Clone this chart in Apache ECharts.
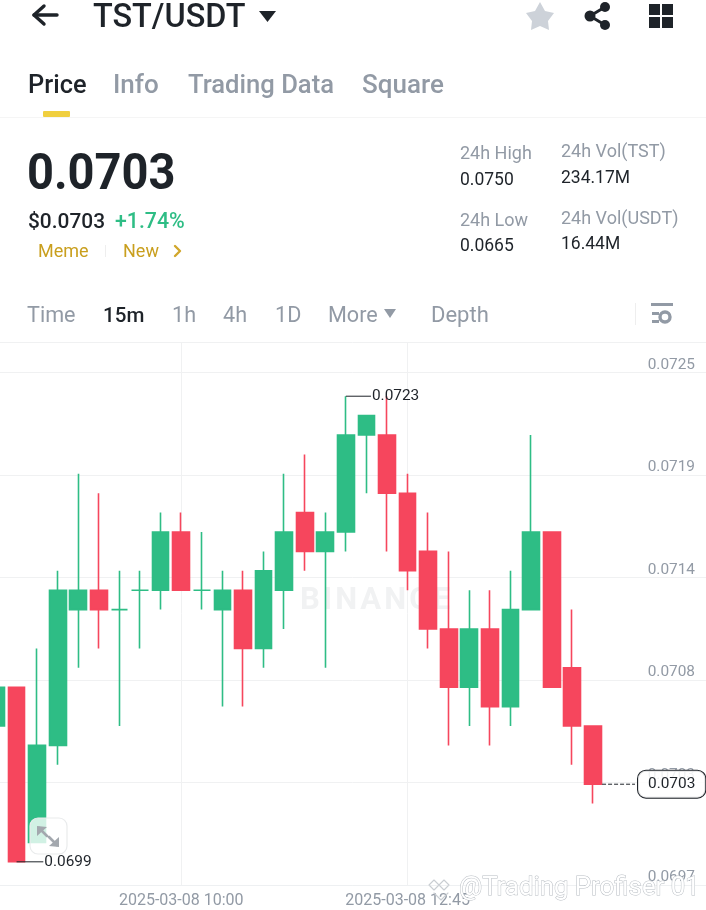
<!DOCTYPE html>
<html>
<head>
<meta charset="utf-8">
<style>
html, body { margin: 0; padding: 0; background: #fff; }
#chart { width: 706px; height: 910px; }
</style>
<script src="https://cdn.jsdelivr.net/npm/echarts@6/dist/echarts.min.js"></script>
</head>
<body>
<div id="chart"></div>
<script>
const categories = [
    '2025-03-08 07:45', '2025-03-08 08:00', '2025-03-08 08:15', '2025-03-08 08:30', '2025-03-08 08:45',
    '2025-03-08 09:00', '2025-03-08 09:15', '2025-03-08 09:30', '2025-03-08 09:45', '2025-03-08 10:00',
    '2025-03-08 10:15', '2025-03-08 10:30', '2025-03-08 10:45', '2025-03-08 11:00', '2025-03-08 11:15',
    '2025-03-08 11:30', '2025-03-08 11:45', '2025-03-08 12:00', '2025-03-08 12:15', '2025-03-08 12:30',
    '2025-03-08 12:45', '2025-03-08 13:00', '2025-03-08 13:15', '2025-03-08 13:30', '2025-03-08 13:45',
    '2025-03-08 14:00', '2025-03-08 14:15', '2025-03-08 14:30', '2025-03-08 14:45', '2025-03-08 15:00',
    '2025-03-08 15:15', '2025-03-08 15:30', '2025-03-08 15:45', '2025-03-08 16:00', '2025-03-08 16:15'
];
const labelledTimes = ['2025-03-08 10:00', '2025-03-08 12:45'];

// open, close, low, high
const candles = [
    [0.0706, 0.0708, 0.0706, 0.0708], [0.0708, 0.0699, 0.0699, 0.0708], [0.0700, 0.0705, 0.0700, 0.0710],
    [0.0705, 0.0713, 0.0704, 0.0714], [0.0712, 0.0713, 0.0709, 0.0719], [0.0713, 0.0712, 0.0710, 0.0718],
    [0.0712, 0.0712, 0.0706, 0.0714], [0.0713, 0.0713, 0.0710, 0.0714], [0.0713, 0.0716, 0.0712, 0.0717],
    [0.0716, 0.0713, 0.0713, 0.0717], [0.0713, 0.0713, 0.0712, 0.0716], [0.0712, 0.0713, 0.0707, 0.0714],
    [0.0713, 0.0710, 0.0707, 0.0714], [0.0710, 0.0714, 0.0709, 0.0715], [0.0713, 0.0716, 0.0711, 0.0719],
    [0.0717, 0.0715, 0.0714, 0.0720], [0.0715, 0.0716, 0.0709, 0.0717], [0.0716, 0.0721, 0.0715, 0.0723],
    [0.0721, 0.0722, 0.0718, 0.0722], [0.0721, 0.0718, 0.0715, 0.0723], [0.0718, 0.0714, 0.0713, 0.0719],
    [0.0715, 0.0711, 0.0710, 0.0717], [0.0711, 0.0708, 0.0705, 0.0715], [0.0708, 0.0711, 0.0706, 0.0713],
    [0.0711, 0.0707, 0.0705, 0.0713], [0.0707, 0.0712, 0.0706, 0.0714], [0.0712, 0.0716, 0.0712, 0.0721],
    [0.0716, 0.0708, 0.0708, 0.0716], [0.0709, 0.0706, 0.0704, 0.0712], [0.0706, 0.0703, 0.0702, 0.0706]
];

const priceTickLabels = ['0.0697', '0.0703', '0.0708', '0.0714', '0.0719', '0.0725', ''];
const highLeader = [[17, 0.0723], [18.22, 0.0723]];
const lowLeader = [[1, 0.0699], [2.3, 0.0699]];
const lastLeader = [[29.45, 0.0703], [31.05, 0.0703]];

const UP = '#2EBD85';
const DOWN = '#F6465D';
const DARK = '#1E2329';
const GRAY = '#929AA5';
const FONT = 'Roboto, sans-serif';

function text(str, x, y, size, fill, weight, extra) {
    return {
        type: 'text',
        z: 100,
        style: Object.assign({
            text: str, x: x, y: y + size * 0.09, fill: fill,
            fontSize: size, fontFamily: FONT, fontWeight: weight || 400,
            verticalAlign: 'middle', align: 'left'
        }, extra || {})
    };
}

function poly(points, fill) {
    return { type: 'polygon', z: 100, shape: { points: points }, style: { fill: fill } };
}

function line(points, stroke, width) {
    return {
        type: 'polyline', z: 100, shape: { points: points },
        style: { stroke: stroke, lineWidth: width, fill: null, lineCap: 'round', lineJoin: 'round' }
    };
}

function box(x, y, w, h, fill, r) {
    return { type: 'rect', z: 100, shape: { x: x, y: y, width: w, height: h, r: r || 0 }, style: { fill: fill } };
}

function dot(cx, cy, r, fill) {
    return { type: 'circle', z: 100, shape: { cx: cx, cy: cy, r: r }, style: { fill: fill } };
}

const headerItems = [
    // top bar
    line([[34, 15], [57, 15]], DARK, 3.4),
    line([[44, 6], [34, 15], [44, 24]], DARK, 3.4),
    text('TST/USDT', 93, 16, 32.4, DARK, 500),
    poly([[259, 11], [276, 11], [267.5, 22]], DARK),
    poly([[540, 2], [545, 11], [554, 13], [548, 21], [549, 30], [540, 26], [531, 30], [532, 21], [526, 13], [535, 11]], '#CDD2D9'),
    line([[590, 16], [605, 7], [590, 16], [605, 25]], DARK, 3),
    dot(590, 16, 5.5, DARK), dot(605, 7, 5, DARK), dot(605, 25, 5, DARK),
    box(649, 4, 11, 11, DARK), box(662, 4, 11, 11, DARK),
    box(649, 17, 11, 11, DARK), box(662, 17, 11, 11, DARK),

    // tabs
    text('Price', 28, 84, 25.4, DARK, 500),
    text('Info', 113, 84, 26, GRAY, 500),
    text('Trading Data', 188, 84, 25.6, GRAY, 500),
    text('Square', 362, 84, 26, GRAY, 500),
    box(43, 111, 27, 6, '#F0CF3F', 1),
    box(0, 117, 706, 1, '#F5F5F5'),

    // price block
    Object.assign(text('0.0703', 0, 172, 50, DARK, 700), { x: 27, scaleX: 0.94 }),
    text('$0.0703', 28, 221, 20.9, DARK, 500),
    text('+1.74%', 115, 221, 21.3, UP, 500),
    text('Meme', 38, 250.5, 18, '#C99F1E'),
    box(105, 245, 1, 12, '#EEEEEE'),
    text('New', 123, 250.5, 18, '#C99F1E'),
    line([[175, 246], [180, 251], [175, 256]], '#D1A72C', 2.4),

    // 24h stats
    text('24h High', 460, 152.5, 18, GRAY),
    text('0.0750', 460, 179, 17.5, DARK),
    text('24h Low', 460, 219.5, 18, GRAY),
    text('0.0665', 460, 245, 17.5, DARK),
    text('24h Vol(TST)', 561, 150.5, 18, GRAY),
    text('234.17M', 561, 177, 17.5, DARK),
    text('24h Vol(USDT)', 561, 217.5, 18, GRAY),
    text('16.44M', 561, 243, 17.5, DARK),

    // interval row
    text('Time', 27, 314.5, 21.6, GRAY),
    text('15m', 103, 314.5, 20.6, DARK, 500),
    text('1h', 172, 314.5, 21.6, GRAY),
    text('4h', 223, 314.5, 21.6, GRAY),
    text('1D', 275, 314.5, 21.6, GRAY),
    text('More', 328, 314.5, 21.6, GRAY),
    poly([[384, 309], [396, 309], [390, 318]], GRAY),
    text('Depth', 431, 314.5, 22, GRAY),
    box(635, 303, 1, 22, '#EEEEEE'),
    box(651, 303, 22, 3, GRAY),
    box(652, 312, 7, 3, GRAY),
    box(652, 320, 7, 3, GRAY),
    { type: 'circle', z: 100, shape: { cx: 665, cy: 317, r: 5 }, style: { fill: '#fff', stroke: GRAY, lineWidth: 3.4 } },

    // expand button
    { type: 'rect', z: 100, shape: { x: 30, y: 818, width: 37, height: 36, r: 8 }, style: { fill: 'rgba(255,255,255,0.78)', stroke: '#E9EBEC', lineWidth: 1.2 } },
    poly([[37, 826], [47, 827], [37, 836]], '#A3A8AE'),
    line([[39, 828], [47, 836]], '#A3A8AE', 2.6),
    poly([[59, 847], [49, 846], [59, 837]], '#A3A8AE'),
    line([[57, 845], [49, 837]], '#A3A8AE', 2.6),

    // image watermark
    line([[429, 885], [434, 880], [439, 885], [434, 890], [429, 885]], '#C9CDD2', 1.1),
    line([[439, 885], [444, 880], [449, 885], [444, 890], [439, 885]], '#C9CDD2', 1.1),
    line([[434, 893], [441, 900], [448, 893]], '#C9CDD2', 1.1),
    text('@Trading Profiser 01', 459, 886, 25.8, '#FFFFFF', 400, { stroke: '#B8BDC3', lineWidth: 1 })
];

const brandMark = {
    type: 'text',
    z: -1,
    style: {
        text: 'B\u200AI\u200AN\u200AA\u200AN\u200AC\u200AE', x: 300, y: 601, fill: '#F1F2F3',
        fontSize: 31, fontFamily: FONT, fontWeight: 700, verticalAlign: 'middle'
    }
};

function leaderSeries(name, points, lineType, label) {
    return {
        name: name,
        type: 'line',
        xAxisIndex: 1,
        data: points,
        symbol: 'none',
        silent: true,
        z: 5,
        lineStyle: { color: DARK, width: 1, type: lineType },
        endLabel: Object.assign({
            show: true,
            formatter: name,
            color: DARK,
            fontSize: 15.4,
            fontFamily: FONT,
            distance: 1,
            padding: [4, 0, 0, 0]
        }, label || {})
    };
}

const chart = echarts.init(document.getElementById('chart'));

chart.setOption({
    animation: false,
    backgroundColor: '#fff',
    grid: { left: -14.3, right: 0, top: 342, bottom: 25, containLabel: false, outerBoundsMode: 'none' },
    xAxis: [
        {
            type: 'category',
            data: categories,
            boundaryGap: true,
            axisLine: { show: true, lineStyle: { color: '#EEF0F2', width: 1 } },
            axisTick: { show: false, alignWithLabel: true },
            axisLabel: {
                color: GRAY,
                fontSize: 16,
                fontFamily: FONT,
                margin: 8,
                interval: (i, v) => labelledTimes.includes(v)
            },
            splitLine: {
                show: true,
                alignWithLabel: true,
                interval: (i, v) => labelledTimes.includes(v),
                lineStyle: { color: '#F0F1F2', width: 1 }
            }
        },
        { type: 'value', min: -0.5, max: 34.5, show: false, splitLine: { show: false } }
    ],
    yAxis: {
        type: 'value',
        position: 'right',
        min: 0.06978048,
        max: 0.07257948,
        interval: 0.00052864,
        axisLine: { show: false },
        axisTick: { show: false },
        axisLabel: {
            inside: true,
            color: GRAY,
            fontSize: 15.4,
            fontFamily: FONT,
            margin: 11,
            verticalAlign: 'bottom',
            lineHeight: 15,
            formatter: (value, index) => priceTickLabels[index] || ''
        },
        splitLine: { show: true, lineStyle: { color: '#F0F1F2', width: 1 } }
    },
    series: [
        {
            name: 'TST/USDT',
            type: 'candlestick',
            data: candles,
            barWidth: 17.2,
            itemStyle: {
                color: UP,
                color0: DOWN,
                borderColor: UP,
                borderColor0: DOWN,
                borderColorDoji: UP,
                borderWidth: 1.6
            }
        },
        leaderSeries('0.0723', highLeader, 'solid'),
        leaderSeries('0.0699', lowLeader, 'solid'),
        leaderSeries('0.0703', lastLeader, 'dashed', {
            distance: 3,
            backgroundColor: 'rgba(255,255,255,0.86)',
            borderColor: DARK,
            borderWidth: 1,
            borderRadius: 8,
            padding: [9, 10, 3, 10]
        })
    ],
    graphic: headerItems.concat([brandMark])
});

window.addEventListener('resize', () => chart.resize());
</script>
</body>
</html>
